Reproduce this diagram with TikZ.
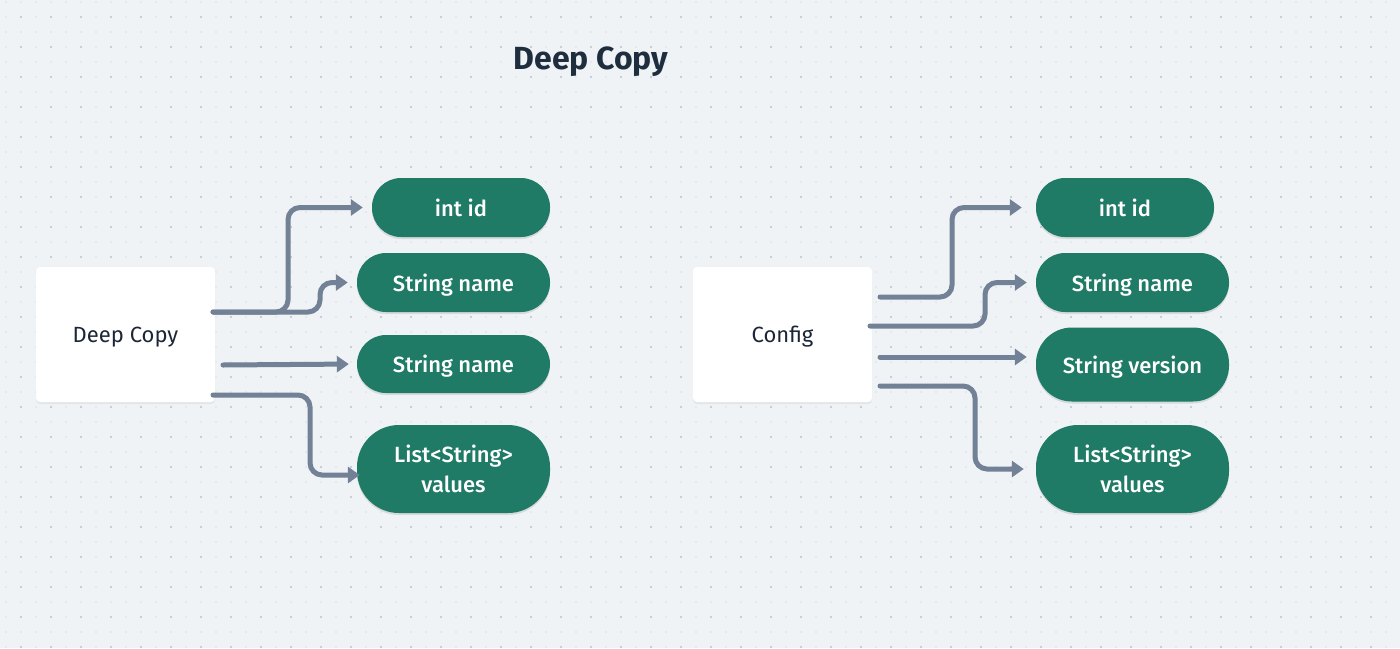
\documentclass[tikz,border=0pt]{standalone}
\usepackage{fontspec}
\setmainfont{Fira Sans}
\newfontfamily\medfont{Fira Sans Medium}
\usetikzlibrary{arrows.meta,calc,shadows}
\definecolor{bg}{HTML}{EFF3F6}
\definecolor{dota}{HTML}{D8DFE7}
\definecolor{dotb}{HTML}{BAC6D4}
\definecolor{pillg}{HTML}{1F7A66}
\definecolor{wire}{HTML}{728196}
\definecolor{ink}{HTML}{1B2636}
\definecolor{titleink}{HTML}{1E2E3F}
\begin{document}
\begin{tikzpicture}[x=1pt,y=-1pt,
  pill/.style={fill=pillg, text=white, font=\medfont\fontsize{22}{30}\selectfont, align=center, inner sep=0pt, text depth=0pt,
    drop shadow={shadow xshift=0pt, shadow yshift=-2pt, opacity=0.10, fill=black}},
  card/.style={fill=white, rounded corners=4pt, inner sep=0pt, font=\fontsize{22}{26}\selectfont, text=ink, text depth=0pt,
    drop shadow={shadow xshift=0pt, shadow yshift=-2pt, opacity=0.05, fill=black}},
  wirel/.style={draw=wire, line width=5pt, line cap=round, rounded corners=12pt, -{Triangle[length=12pt,width=16pt]}},
]
\useasboundingbox (0,0) rectangle (1400,648);
\fill[bg] (0,0) rectangle (1400,648);
\foreach \x in {6,21,...,1400} \foreach \y in {2,17,...,648} \fill[dota] (\x,\y) circle (0.8pt);
\foreach \x in {21,51,...,1400} \foreach \y in {17,47,...,648} \fill[dotb] (\x,\y) circle (1.1pt);

\node[font=\bfseries\fontsize{32}{36}\selectfont, text=titleink, anchor=base] (title) at (591,69) {Deep Copy};

\node[card, minimum width=179pt, minimum height=135pt] (L) at (125.5,334.5) {Deep Copy};
\node[card, minimum width=179pt, minimum height=135pt] (R) at (782.5,334.5) {Config};

\node[pill, minimum width=178pt, minimum height=59pt, rounded corners=29pt] (l1) at (461,207.5) {int id};
\node[pill, minimum width=193pt, minimum height=59pt, rounded corners=29pt] (l2) at (453.5,282.5) {String name};
\node[pill, minimum width=193pt, minimum height=58pt, rounded corners=29pt] (l3) at (453.5,364) {String name};
\node[pill, minimum width=193pt, minimum height=88pt, rounded corners=42pt] (l4) at (453.5,469) {List<String>\\values};

\node[pill, minimum width=178pt, minimum height=59pt, rounded corners=29pt] (r1) at (1125,207.5) {int id};
\node[pill, minimum width=193pt, minimum height=59pt, rounded corners=29pt] (r2) at (1132.5,282.5) {String name};
\node[pill, minimum width=193pt, minimum height=74pt, rounded corners=36pt] (r3) at (1132.5,364.5) {String version};
\node[pill, minimum width=193pt, minimum height=88pt, rounded corners=42pt] (r4) at (1132.5,469) {List<String>\\values};

\coordinate (la) at (213,312);
\coordinate (lb) at (223,365);
\coordinate (lc) at (213,395);
\draw[wirel, shorten >=9pt] (la) -- (288,312) -- (288,207.5) -- (l1.west);
\draw[wirel, shorten >=9pt] (la) -- (320,312) -- (320,282.5) -- (l2.west);
\draw[wirel, shorten >=8pt] (lb) -- (l3.west);
\draw[wirel] (lc) -- (310,395) -- (310,475) -- ($(l4.west)+(3,6)$);

\coordinate (ra) at (880,297);
\coordinate (rb) at (870,326);
\coordinate (rc) at (880,357);
\coordinate (rd) at (880,386);
\draw[wirel, shorten >=14pt] (ra) -- (952,297) -- (952,207.5) -- (r1.west);
\draw[wirel, shorten >=9pt] (rb) -- (985,326) -- (985,282.5) -- (r2.west);
\draw[wirel] (rc) -- ($(r3.west)+(-9,-7.5)$);
\draw[wirel, shorten >=12pt] (rd) -- (975,386) -- (975,469) -- (r4.west);
\end{tikzpicture}
\end{document}
